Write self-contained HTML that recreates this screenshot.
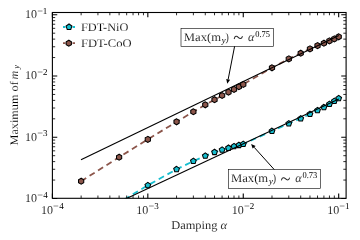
<!DOCTYPE html>
<html><head><meta charset="utf-8">
<style>
html,body{margin:0;padding:0;background:#fff;width:360px;height:240px;overflow:hidden}
svg{display:block;will-change:transform}
text{font-family:"Liberation Serif",serif;fill:#000;text-rendering:geometricPrecision}
.th{stroke:#fff;stroke-width:0.12px}
</style></head><body>
<svg width="360" height="240" viewBox="0 0 360 240">
<defs><clipPath id="ax"><rect x="52.4" y="12.5" width="293.70" height="185.80"/></clipPath></defs>
<g clip-path="url(#ax)">
<polyline fill="none" stroke="#8c564b" stroke-width="1.8" stroke-dasharray="6 4" points="81.13,181.20 119.10,157.20 147.83,139.40 176.56,121.80 193.36,111.75 205.28,104.80 214.53,99.70 222.09,95.50 228.48,92.15 234.01,89.40 238.89,86.75 243.26,84.35 271.99,67.80 288.79,58.90 300.71,53.20 309.96,48.90 317.52,45.60 323.91,43.20 329.44,40.90 334.32,38.90 338.69,36.80"/>
<polyline fill="none" stroke="#17becf" stroke-width="1.8" stroke-dasharray="6 4" stroke-dashoffset="4" points="119.10,202.60 147.83,185.30 176.56,169.30 193.36,161.15 205.28,155.90 214.53,152.20 222.09,149.80 228.48,148.00 234.01,146.40 238.89,145.20 243.26,144.10 271.99,131.05 288.79,123.55 300.71,118.55 309.96,114.05 317.52,110.30 323.91,107.30 329.44,104.05 334.32,101.05 338.69,98.40"/>
<polygon points="81.13,178.20 78.53,179.70 78.53,182.70 81.13,184.20 83.73,182.70 83.73,179.70" fill="#8c564b" stroke="#000" stroke-width="1.05"/>
<polygon points="119.10,154.20 116.50,155.70 116.50,158.70 119.10,160.20 121.70,158.70 121.70,155.70" fill="#8c564b" stroke="#000" stroke-width="1.05"/>
<polygon points="147.83,136.40 145.23,137.90 145.23,140.90 147.83,142.40 150.43,140.90 150.43,137.90" fill="#8c564b" stroke="#000" stroke-width="1.05"/>
<polygon points="176.56,118.80 173.96,120.30 173.96,123.30 176.56,124.80 179.16,123.30 179.16,120.30" fill="#8c564b" stroke="#000" stroke-width="1.05"/>
<polygon points="193.36,108.75 190.76,110.25 190.76,113.25 193.36,114.75 195.96,113.25 195.96,110.25" fill="#8c564b" stroke="#000" stroke-width="1.05"/>
<polygon points="205.28,101.80 202.69,103.30 202.69,106.30 205.28,107.80 207.88,106.30 207.88,103.30" fill="#8c564b" stroke="#000" stroke-width="1.05"/>
<polygon points="214.53,96.70 211.93,98.20 211.93,101.20 214.53,102.70 217.13,101.20 217.13,98.20" fill="#8c564b" stroke="#000" stroke-width="1.05"/>
<polygon points="222.09,92.50 219.49,94.00 219.49,97.00 222.09,98.50 224.69,97.00 224.69,94.00" fill="#8c564b" stroke="#000" stroke-width="1.05"/>
<polygon points="228.48,89.15 225.88,90.65 225.88,93.65 228.48,95.15 231.08,93.65 231.08,90.65" fill="#8c564b" stroke="#000" stroke-width="1.05"/>
<polygon points="234.01,86.40 231.41,87.90 231.41,90.90 234.01,92.40 236.61,90.90 236.61,87.90" fill="#8c564b" stroke="#000" stroke-width="1.05"/>
<polygon points="238.89,83.75 236.30,85.25 236.30,88.25 238.89,89.75 241.49,88.25 241.49,85.25" fill="#8c564b" stroke="#000" stroke-width="1.05"/>
<polygon points="243.26,81.35 240.66,82.85 240.66,85.85 243.26,87.35 245.86,85.85 245.86,82.85" fill="#8c564b" stroke="#000" stroke-width="1.05"/>
<polygon points="271.99,64.80 269.39,66.30 269.39,69.30 271.99,70.80 274.59,69.30 274.59,66.30" fill="#8c564b" stroke="#000" stroke-width="1.05"/>
<polygon points="288.79,55.90 286.19,57.40 286.19,60.40 288.79,61.90 291.39,60.40 291.39,57.40" fill="#8c564b" stroke="#000" stroke-width="1.05"/>
<polygon points="300.71,50.20 298.12,51.70 298.12,54.70 300.71,56.20 303.31,54.70 303.31,51.70" fill="#8c564b" stroke="#000" stroke-width="1.05"/>
<polygon points="309.96,45.90 307.36,47.40 307.36,50.40 309.96,51.90 312.56,50.40 312.56,47.40" fill="#8c564b" stroke="#000" stroke-width="1.05"/>
<polygon points="317.52,42.60 314.92,44.10 314.92,47.10 317.52,48.60 320.12,47.10 320.12,44.10" fill="#8c564b" stroke="#000" stroke-width="1.05"/>
<polygon points="323.91,40.20 321.31,41.70 321.31,44.70 323.91,46.20 326.51,44.70 326.51,41.70" fill="#8c564b" stroke="#000" stroke-width="1.05"/>
<polygon points="329.44,37.90 326.84,39.40 326.84,42.40 329.44,43.90 332.04,42.40 332.04,39.40" fill="#8c564b" stroke="#000" stroke-width="1.05"/>
<polygon points="334.32,35.90 331.73,37.40 331.73,40.40 334.32,41.90 336.92,40.40 336.92,37.40" fill="#8c564b" stroke="#000" stroke-width="1.05"/>
<polygon points="338.69,33.80 336.09,35.30 336.09,38.30 338.69,39.80 341.29,38.30 341.29,35.30" fill="#8c564b" stroke="#000" stroke-width="1.05"/>
<polygon points="119.10,199.60 116.25,201.67 117.34,205.03 120.87,205.03 121.96,201.67" fill="#17becf" stroke="#000" stroke-width="1.05"/>
<polygon points="147.83,182.30 144.98,184.37 146.07,187.73 149.59,187.73 150.68,184.37" fill="#17becf" stroke="#000" stroke-width="1.05"/>
<polygon points="176.56,166.30 173.70,168.37 174.79,171.73 178.32,171.73 179.41,168.37" fill="#17becf" stroke="#000" stroke-width="1.05"/>
<polygon points="193.36,158.15 190.51,160.22 191.60,163.58 195.13,163.58 196.21,160.22" fill="#17becf" stroke="#000" stroke-width="1.05"/>
<polygon points="205.28,152.90 202.43,154.97 203.52,158.33 207.05,158.33 208.14,154.97" fill="#17becf" stroke="#000" stroke-width="1.05"/>
<polygon points="214.53,149.20 211.68,151.27 212.77,154.63 216.30,154.63 217.39,151.27" fill="#17becf" stroke="#000" stroke-width="1.05"/>
<polygon points="222.09,146.80 219.24,148.87 220.33,152.23 223.85,152.23 224.94,148.87" fill="#17becf" stroke="#000" stroke-width="1.05"/>
<polygon points="228.48,145.00 225.62,147.07 226.71,150.43 230.24,150.43 231.33,147.07" fill="#17becf" stroke="#000" stroke-width="1.05"/>
<polygon points="234.01,143.40 231.16,145.47 232.25,148.83 235.78,148.83 236.87,145.47" fill="#17becf" stroke="#000" stroke-width="1.05"/>
<polygon points="238.89,142.20 236.04,144.27 237.13,147.63 240.66,147.63 241.75,144.27" fill="#17becf" stroke="#000" stroke-width="1.05"/>
<polygon points="243.26,141.10 240.41,143.17 241.50,146.53 245.02,146.53 246.11,143.17" fill="#17becf" stroke="#000" stroke-width="1.05"/>
<polygon points="271.99,128.05 269.13,130.12 270.22,133.48 273.75,133.48 274.84,130.12" fill="#17becf" stroke="#000" stroke-width="1.05"/>
<polygon points="288.79,120.55 285.94,122.62 287.03,125.98 290.56,125.98 291.64,122.62" fill="#17becf" stroke="#000" stroke-width="1.05"/>
<polygon points="300.71,115.55 297.86,117.62 298.95,120.98 302.48,120.98 303.57,117.62" fill="#17becf" stroke="#000" stroke-width="1.05"/>
<polygon points="309.96,111.05 307.11,113.12 308.20,116.48 311.73,116.48 312.82,113.12" fill="#17becf" stroke="#000" stroke-width="1.05"/>
<polygon points="317.52,107.30 314.67,109.37 315.76,112.73 319.28,112.73 320.37,109.37" fill="#17becf" stroke="#000" stroke-width="1.05"/>
<polygon points="323.91,104.30 321.05,106.37 322.14,109.73 325.67,109.73 326.76,106.37" fill="#17becf" stroke="#000" stroke-width="1.05"/>
<polygon points="329.44,101.05 326.59,103.12 327.68,106.48 331.21,106.48 332.30,103.12" fill="#17becf" stroke="#000" stroke-width="1.05"/>
<polygon points="334.32,98.05 331.47,100.12 332.56,103.48 336.09,103.48 337.18,100.12" fill="#17becf" stroke="#000" stroke-width="1.05"/>
<polygon points="338.69,95.40 335.84,97.47 336.93,100.83 340.45,100.83 341.54,97.47" fill="#17becf" stroke="#000" stroke-width="1.05"/>
<line x1="81" y1="159.7" x2="338.8" y2="35.47" stroke="#000" stroke-width="1.1"/>
<line x1="120" y1="201.58" x2="338.8" y2="98.97" stroke="#000" stroke-width="1.1"/>
</g>
<path d="M81.13 198.3V195.52M81.13 12.5V15.28M52.4 180.06H55.18M346.1 180.06H343.32M97.93 198.3V195.52M97.93 12.5V15.28M52.4 169.28H55.18M346.1 169.28H343.32M109.85 198.3V195.52M109.85 12.5V15.28M52.4 161.62H55.18M346.1 161.62H343.32M119.10 198.3V195.52M119.10 12.5V15.28M52.4 155.69H55.18M346.1 155.69H343.32M126.66 198.3V195.52M126.66 12.5V15.28M52.4 150.84H55.18M346.1 150.84H343.32M133.05 198.3V195.52M133.05 12.5V15.28M52.4 146.74H55.18M346.1 146.74H343.32M138.58 198.3V195.52M138.58 12.5V15.28M52.4 143.19H55.18M346.1 143.19H343.32M143.46 198.3V195.52M143.46 12.5V15.28M52.4 140.05H55.18M346.1 140.05H343.32M176.56 198.3V195.52M176.56 12.5V15.28M52.4 118.81H55.18M346.1 118.81H343.32M193.36 198.3V195.52M193.36 12.5V15.28M52.4 108.03H55.18M346.1 108.03H343.32M205.28 198.3V195.52M205.28 12.5V15.28M52.4 100.37H55.18M346.1 100.37H343.32M214.53 198.3V195.52M214.53 12.5V15.28M52.4 94.44H55.18M346.1 94.44H343.32M222.09 198.3V195.52M222.09 12.5V15.28M52.4 89.59H55.18M346.1 89.59H343.32M228.48 198.3V195.52M228.48 12.5V15.28M52.4 85.49H55.18M346.1 85.49H343.32M234.01 198.3V195.52M234.01 12.5V15.28M52.4 81.94H55.18M346.1 81.94H343.32M238.89 198.3V195.52M238.89 12.5V15.28M52.4 78.80H55.18M346.1 78.80H343.32M271.99 198.3V195.52M271.99 12.5V15.28M52.4 57.56H55.18M346.1 57.56H343.32M288.79 198.3V195.52M288.79 12.5V15.28M52.4 46.78H55.18M346.1 46.78H343.32M300.71 198.3V195.52M300.71 12.5V15.28M52.4 39.12H55.18M346.1 39.12H343.32M309.96 198.3V195.52M309.96 12.5V15.28M52.4 33.19H55.18M346.1 33.19H343.32M317.52 198.3V195.52M317.52 12.5V15.28M52.4 28.34H55.18M346.1 28.34H343.32M323.91 198.3V195.52M323.91 12.5V15.28M52.4 24.24H55.18M346.1 24.24H343.32M329.44 198.3V195.52M329.44 12.5V15.28M52.4 20.69H55.18M346.1 20.69H343.32M334.32 198.3V195.52M334.32 12.5V15.28M52.4 17.55H55.18M346.1 17.55H343.32" stroke="#000" stroke-width="0.83" fill="none"/>
<path d="M52.40 198.3V193.44M52.40 12.5V17.36M52.4 198.50H57.26M346.1 198.50H341.24M147.83 198.3V193.44M147.83 12.5V17.36M52.4 137.25H57.26M346.1 137.25H341.24M243.26 198.3V193.44M243.26 12.5V17.36M52.4 76.00H57.26M346.1 76.00H341.24M338.69 198.3V193.44M338.69 12.5V17.36M52.4 14.75H57.26M346.1 14.75H341.24" stroke="#000" stroke-width="1.1" fill="none"/>
<rect x="52.4" y="12.5" width="293.70" height="185.80" fill="none" stroke="#000" stroke-width="1.1"/>
<text x="40.90" y="213.50" font-size="12" class="th">10</text><text transform="translate(53.04,209.10) scale(1.1294,1)" font-size="9" >&#8722;</text><text x="59.15" y="209.10" font-size="9" >4</text>
<text x="25.10" y="201.90" font-size="12" class="th">10</text><text transform="translate(37.24,197.50) scale(1.1294,1)" font-size="9" >&#8722;</text><text x="43.35" y="197.50" font-size="9" >4</text>
<text x="136.33" y="213.50" font-size="12" class="th">10</text><text transform="translate(148.47,209.10) scale(1.1294,1)" font-size="9" >&#8722;</text><text x="154.33" y="209.10" font-size="9" >3</text>
<text x="25.10" y="140.65" font-size="12" class="th">10</text><text transform="translate(37.24,136.25) scale(1.1294,1)" font-size="9" >&#8722;</text><text x="43.10" y="136.25" font-size="9" >3</text>
<text x="231.76" y="213.50" font-size="12" class="th">10</text><text transform="translate(243.90,209.10) scale(1.1294,1)" font-size="9" >&#8722;</text><text x="249.76" y="209.10" font-size="9" >2</text>
<text x="25.10" y="79.40" font-size="12" class="th">10</text><text transform="translate(37.24,75.00) scale(1.1294,1)" font-size="9" >&#8722;</text><text x="43.10" y="75.00" font-size="9" >2</text>
<text x="327.19" y="213.50" font-size="12" class="th">10</text><text transform="translate(339.33,209.10) scale(1.1294,1)" font-size="9" >&#8722;</text><text x="344.94" y="209.10" font-size="9" >1</text>
<text x="25.10" y="18.15" font-size="12" class="th">10</text><text transform="translate(37.24,13.75) scale(1.1294,1)" font-size="9" >&#8722;</text><text x="42.85" y="13.75" font-size="9" >1</text>
<text transform="translate(171.14,228.60) scale(1.0547,1)" font-size="11.8" class="th">Damping <tspan font-style="italic">&#945;</tspan></text>
<text transform="translate(17.60,145.46) rotate(-90) scale(1.0545,1)" font-size="11.6" class="th">Maximum of</text>
<text transform="translate(17.60,79.52) rotate(-90) scale(1.0483,1)" font-size="11.6" class="th" font-style="italic">m</text>
<text transform="translate(19.40,68.87) rotate(-90) scale(0.9778,1)" font-size="8.4" font-style="italic">y</text>
<line x1="63" y1="27" x2="75" y2="27" stroke="#17becf" stroke-width="1.8" stroke-dasharray="2.5 7"/>
<polygon points="69.00,24.00 66.15,26.07 67.24,29.43 70.76,29.43 71.85,26.07" fill="#17becf" stroke="#000" stroke-width="1.05"/>
<line x1="63" y1="43.2" x2="75" y2="43.2" stroke="#8c564b" stroke-width="1.8" stroke-dasharray="2.5 7"/>
<polygon points="68.80,40.20 66.20,41.70 66.20,44.70 68.80,46.20 71.40,44.70 71.40,41.70" fill="#8c564b" stroke="#000" stroke-width="1.05"/>
<text transform="translate(80.98,31.00) scale(1.0625,1)" font-size="11.6" class="th">FDT-NiO</text>
<text transform="translate(80.98,46.50) scale(1.0837,1)" font-size="11.6" class="th">FDT-CoO</text>
<rect x="181.0" y="28.5" width="92.5" height="18" fill="#fff" stroke="#000" stroke-width="0.6"/>
<rect x="228.3" y="169.5" width="92.2" height="19" fill="#fff" stroke="#000" stroke-width="0.6"/>
<g transform="translate(0,0)"><text transform="translate(183.84,40.70) scale(1.0514,1)" font-size="12" class="th">Max(m</text><text transform="translate(221.77,42.80) scale(1.0222,1)" font-size="8.5" font-style="italic">y</text><text transform="translate(225.48,40.70) scale(0.8333,1)" font-size="12" class="th">)</text><path d="M234.3,38.6C234.9,35.8 236.8,35.8 238.2,37.3S241.7,39.3 242.3,36.6" fill="none" stroke="#2a2a2a" stroke-width="1.05" stroke-linecap="round"/><text transform="translate(247.95,40.70) scale(1.0080,1)" font-size="12" class="th" font-style="italic">&#945;</text><text transform="translate(255.27,36.60) scale(0.9377,1)" font-size="9" >0.75</text></g>
<g transform="translate(47.2,141.4)"><text transform="translate(183.84,40.70) scale(1.0514,1)" font-size="12" class="th">Max(m</text><text transform="translate(221.77,42.80) scale(1.0222,1)" font-size="8.5" font-style="italic">y</text><text transform="translate(225.48,40.70) scale(0.8333,1)" font-size="12" class="th">)</text><path d="M234.3,38.6C234.9,35.8 236.8,35.8 238.2,37.3S241.7,39.3 242.3,36.6" fill="none" stroke="#2a2a2a" stroke-width="1.05" stroke-linecap="round"/><text transform="translate(247.95,40.70) scale(1.0080,1)" font-size="12" class="th" font-style="italic">&#945;</text><text transform="translate(255.27,36.60) scale(0.9377,1)" font-size="9" >0.73</text></g>
<line x1="234.6" y1="46.3" x2="228.16" y2="79.33" stroke="#000" stroke-width="1"/><polygon points="227.3,83.75 226.20,78.95 230.12,79.72" fill="#000"/>
<line x1="274.2" y1="169.5" x2="254.11" y2="147.24" stroke="#000" stroke-width="1"/><polygon points="251.1,143.9 255.60,145.90 252.63,148.58" fill="#000"/>
</svg></body></html>
